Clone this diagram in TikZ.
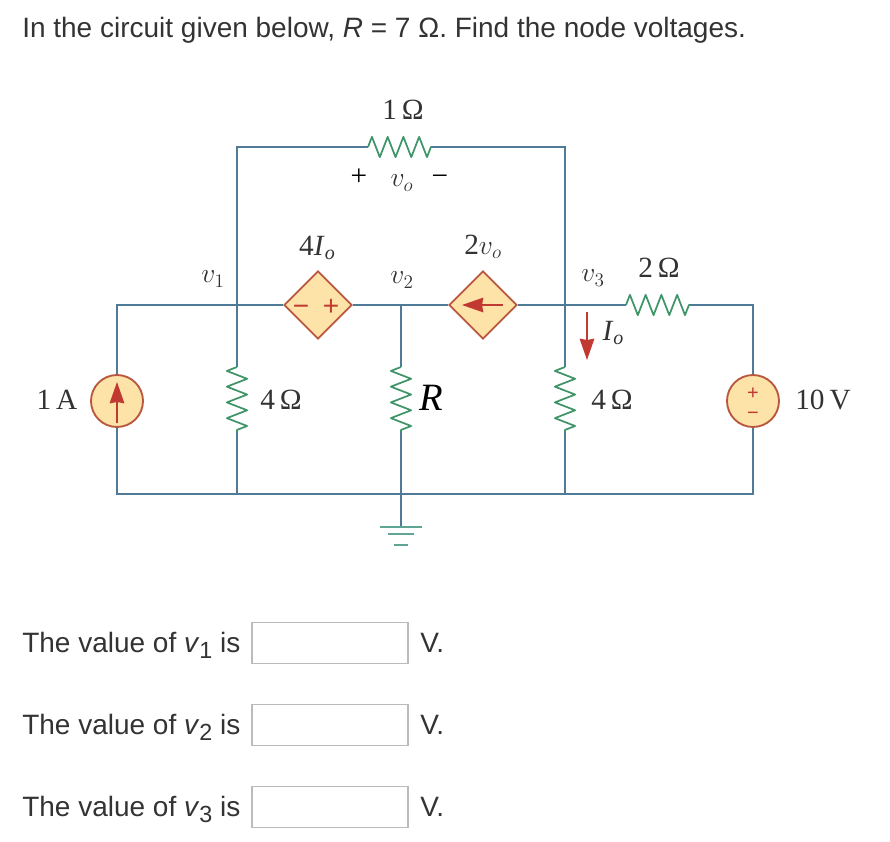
\documentclass[tikz,border=0pt]{standalone}
\usepackage{fontspec}
\setmainfont{Liberation Sans}
\newfontfamily\cirfont{Liberation Serif}
\usetikzlibrary{arrows.meta,shapes.geometric,decorations.pathmorphing}
\definecolor{wirecol}{HTML}{4F7A98}
\definecolor{rescol}{HTML}{3F9468}
\definecolor{gndcol}{HTML}{5FA596}
\definecolor{srcfill}{HTML}{FDE3A7}
\definecolor{srcedge}{HTML}{B9573F}
\definecolor{signcol}{HTML}{C03A32}
\definecolor{inkcol}{HTML}{333333}
\definecolor{boxcol}{HTML}{BBBBBB}
\newcommand{\cirsub}[2]{#1\raisebox{-0.32ex}{\fontsize{15}{15}\selectfont\textit{#2}}}
\tikzset{
  wire/.style={draw=wirecol,line width=1.5pt},
  reshor/.style={draw=rescol,line width=1.3pt,line join=round,decorate,decoration={zigzag,segment length=11.8pt,amplitude=7.6pt}},
  resver/.style={draw=rescol,line width=1.3pt,line join=round,decorate,decoration={zigzag,segment length=11.8pt,amplitude=7.6pt,mirror}},
  gndbar/.style={draw=gndcol,line width=1.5pt},
  srccirc/.style={circle,draw=srcedge,fill=srcfill,line width=1.4pt,minimum size=39pt,inner sep=0pt},
  srcdiam/.style={diamond,draw=srcedge,fill=srcfill,line width=1.4pt,minimum width=51pt,minimum height=51pt,inner sep=0pt},
  sign/.style={text=signcol,inner sep=0pt,font=\fontsize{21}{21}\selectfont},
  smallsign/.style={sign,font=\fontsize{15}{15}\selectfont},
  redarrow/.style={draw=signcol,line width=1.1pt,-{Stealth[length=16pt,width=11pt,inset=1pt]}},
  lab/.style={text=inkcol,inner sep=0pt,font=\cirfont\fontsize{22}{22}\selectfont},
  nodelab/.style={text=inkcol,inner sep=0pt,font=\fontsize{20}{20}\selectfont},
  prompt/.style={text=inkcol,inner sep=0pt,anchor=base west,font=\fontsize{21}{25}\selectfont},
  answerbox/.style={draw=boxcol,line width=0.8pt,fill=white,minimum width=117pt,minimum height=30.7pt,inner sep=0pt}
}
\begin{document}
\begin{tikzpicture}[x=0.75pt,y=-0.75pt]
\useasboundingbox (0,0) rectangle (890,842);

\node[prompt] (title) at (22,38) {In the circuit given below, \textit{R} = 7 Ω. Find the node voltages.};

\coordinate (topa) at (237,147);
\coordinate (topb) at (565,147);
\coordinate (nleft) at (117,305);
\coordinate (nv1) at (237,305);
\coordinate (nv2) at (401,305);
\coordinate (nv3) at (565,305);
\coordinate (nright) at (753,305);
\coordinate (bleft) at (117,494);
\coordinate (bv1) at (237,494);
\coordinate (bv2) at (401,494);
\coordinate (bv3) at (565,494);
\coordinate (bright) at (753,494);
\coordinate (r1a) at (368,147);
\coordinate (r1b) at (432,147);
\coordinate (r2a) at (626,305);
\coordinate (r2b) at (690,305);
\coordinate (r4la) at (237,367);
\coordinate (r4lb) at (237,432);
\coordinate (rra) at (401,367);
\coordinate (rrb) at (401,432);
\coordinate (r4ra) at (565,367);
\coordinate (r4rb) at (565,432);
\coordinate (gnd) at (401,527);
\coordinate (gl1) at (380,527);
\coordinate (gr1) at (422,527);
\coordinate (gl2) at (388,534);
\coordinate (gr2) at (414,534);
\coordinate (gl3) at (394,545);
\coordinate (gr3) at (408,545);

\node[srccirc] (isrc) at (117,401) {};
\node[srccirc] (vsrc) at (753,401) {};
\node[srcdiam] (dep1) at (318,305) {};
\node[srcdiam] (dep2) at (483,305) {};

\draw[wire] (isrc) -- (nleft) -- (nv1);
\draw[wire] (isrc) -- (bleft) -- (bright) -- (vsrc);
\draw[wire] (vsrc) -- (nright) -- (r2b);
\draw[wire] (nv1) -- (dep1);
\draw[wire] (dep1) -- (dep2);
\draw[wire] (dep2) -- (r2a);
\draw[wire] (r4la) -- (topa) -- (r1a);
\draw[wire] (r1b) -- (topb) -- (r4ra);
\draw[wire] (nv2) -- (rra);
\draw[wire] (r4lb) -- (bv1);
\draw[wire] (rrb) -- (gnd);
\draw[wire] (r4rb) -- (bv3);

\draw[reshor] (r1a) -- (r1b);
\draw[reshor] (r2a) -- (r2b);
\draw[resver] (r4la) -- (r4lb);
\draw[resver] (rra) -- (rrb);
\draw[resver] (r4ra) -- (r4rb);

\draw[gndbar] (gl1) -- (gr1);
\draw[gndbar] (gl2) -- (gr2);
\draw[gndbar] (gl3) -- (gr3);

\coordinate (ia) at (117,423);
\coordinate (ib) at (117,382);
\coordinate (da) at (503,305);
\coordinate (db) at (462,305);
\coordinate (ioa) at (587,312);
\coordinate (iob) at (587,360);
\draw[redarrow] (ia) -- (ib);
\draw[redarrow] (da) -- (db);
\draw[redarrow] (ioa) -- (iob);

\node[sign] (dep1m) at (301,310) {−};
\node[sign] (dep1p) at (331,307.5) {+};
\node[smallsign] (vsrcp) at (753,394) {+};
\node[smallsign] (vsrcm) at (753,416) {−};

\node[lab] (lab1ohm) at (403,110) {1\,Ω};
\node[lab,text=black] (labplus) at (359,177) {+};
\node[nodelab] (labvo) at (402,183) {$v_o$};
\node[lab,text=black] (labminus) at (440,180) {−};
\node[lab] (labdep1) at (317,248) {4\cirsub{\textit{I}}{o}};
\node[nodelab] (labv1) at (213,279) {$v_1$};
\node[nodelab] (labv2) at (402,280) {$v_2$};
\node[lab] (labdep2) at (483,247) {2$v_o$};
\node[nodelab] (labv3) at (593,278) {$v_3$};
\node[lab] (lab2ohm) at (659,268) {2\,Ω};
\node[lab] (labio) at (613,333) {\cirsub{\textit{I}}{o}};
\node[lab] (lab1a) at (57,400) {1\,A};
\node[lab] (lab4l) at (281,400) {4\,Ω};
\node[lab,font=\cirfont\fontsize{29}{29}\selectfont,text=black] (labr) at (431,398) {\textit{R}};
\node[lab] (lab4r) at (612,400) {4\,Ω};
\node[lab] (lab10v) at (823,400) {10\,V};

\foreach \i/\y in {1/652,2/734,3/816} {
  \node[prompt] (ask\i) at (22,\y) {The value of \textit{v}\raisebox{-5pt}{\fontsize{17.5}{17.5}\selectfont\i} is};
  \node[answerbox] (box\i) at (330,\y-9) {};
  \node[prompt] (unit\i) at (420,\y) {V.};
}

\end{tikzpicture}
\end{document}
